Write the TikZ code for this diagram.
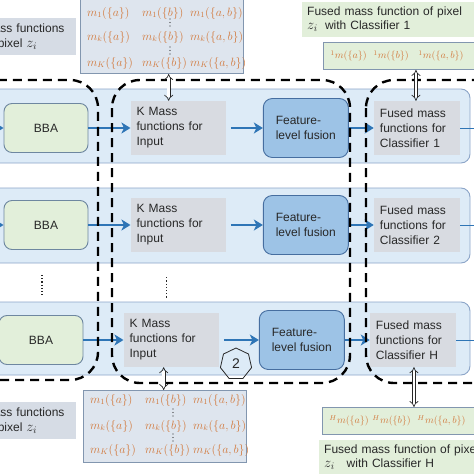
\documentclass[tikz,border=0pt]{standalone}
\usepackage[no-math]{fontspec}
\setmainfont{Liberation Sans}
\usetikzlibrary{arrows.meta, positioning, shapes.geometric}

\definecolor{fondobanda}{RGB}{221,235,247}
\definecolor{bordebanda}{RGB}{140,165,200}
\definecolor{verdeclaro}{RGB}{226,239,218}
\definecolor{bordebba}{RGB}{110,135,160}
\definecolor{grismasa}{RGB}{216,219,225}
\definecolor{azulfusion}{RGB}{157,195,230}
\definecolor{bordefusion}{RGB}{70,110,160}
\definecolor{azulflecha}{RGB}{46,117,182}
\definecolor{fondomatriz}{RGB}{222,229,238}
\definecolor{bordematriz}{RGB}{130,150,175}
\definecolor{grisrotulo}{RGB}{214,220,229}
\definecolor{naranja}{RGB}{210,122,62}
\definecolor{texto}{RGB}{40,40,40}

\newcommand{\filam}[3]{\makebox[55pt][l]{$#1$}\makebox[48pt][l]{$#2$}$#3$}
\newcommand{\filapre}[3]{\makebox[43pt][l]{$#1$}\makebox[45pt][l]{$#2$}$#3$}

\begin{document}
\begin{tikzpicture}[x=1pt, y=-1pt,
    font=\fontsize{12}{15}\selectfont, text=texto,
    banda/.style={draw=bordebanda, fill=fondobanda, rounded corners=9pt, line width=0.9pt},
    bba/.style={draw=bordebba, fill=verdeclaro, rounded corners=8pt, line width=0.9pt,
                minimum width=84pt, minimum height=49pt},
    masa/.style={fill=grismasa, text width=83pt, inner sep=6pt, minimum height=54pt, align=left},
    fusion/.style={draw=bordefusion, fill=azulfusion, rounded corners=9pt, line width=0.9pt,
                   minimum width=85pt, minimum height=59pt, align=left},
    fusionada/.style={fill=grismasa, text width=74pt, inner sep=6pt, minimum height=54pt, align=left},
    flecha/.style={-{Stealth[length=9pt, width=11pt, inset=2.5pt]}, line width=2.6pt, draw=azulflecha},
    salida/.style={draw=azulflecha, line width=1pt},
    limite/.style={draw=black, line width=2.4pt, dash pattern=on 9pt off 6pt, rounded corners=28pt},
    doble/.style={{Implies}-{Implies}, double=white, double distance=2.4pt, line width=0.7pt, draw=texto},
    puntos/.style={dotted, line width=1.2pt, draw=texto},
    tres puntos/.style={draw=texto, line width=1.1pt, line cap=round, dash pattern=on 0pt off 3.5pt},
    caja matriz/.style={draw=bordematriz, fill=fondomatriz, line width=0.9pt},
    caja verde/.style={draw=bordematriz, fill=verdeclaro, line width=0.9pt, text width=180pt,
                       minimum height=27pt, inner xsep=7pt, text=naranja, font=\fontsize{10}{12}\selectfont},
    fila/.style={anchor=west, inner sep=0pt, text=naranja, font=\fontsize{11.5}{13}\selectfont},
    rotulo gris/.style={fill=grisrotulo, text width=82pt, inner xsep=10pt, inner ysep=4pt,
                        minimum height=37pt, align=left},
    rotulo verde/.style={fill=verdeclaro, text width=190pt, inner sep=5pt, align=left,
                         font=\fontsize{12}{13.5}\selectfont}]
  \useasboundingbox (0,0) rectangle (474,474);
  \clip (0,0) rectangle (474,474);

  % bands
  \draw[banda] (-20,89) rectangle (470,163);
  \draw[banda] (-20,188) rectangle (470,263);
  \draw[banda] (-20,302) rectangle (470,375);

  % row 1
  \node[bba] (bba1) at (46,128) {BBA};
  \node[masa, right=42pt of bba1] (km1) {K Mass\\functions for\\Input};
  \node[fusion, right=37pt of km1] (fl1) {Feature-\\level fusion};
  \node[fusionada, right=25pt of fl1] (fu1) {Fused mass\\functions for\\Classifier 1};

  % row 2
  \node[bba] (bba2) at (46,225) {BBA};
  \node[masa, right=42pt of bba2] (km2) {K Mass\\functions for\\Input};
  \node[fusion, right=37pt of km2] (fl2) {Feature-\\level fusion};
  \node[fusionada, right=25pt of fl2] (fu2) {Fused mass\\functions for\\Classifier 2};

  % row H
  \node[bba] (bba3) at (41,340) {BBA};
  \node[masa, right=40pt of bba3] (km3) {K Mass\\functions for\\Input};
  \node[fusion, right=40pt of km3] (fl3) {Feature-\\level fusion};
  \node[fusionada, right=25pt of fl3] (fu3) {Fused mass\\functions for\\Classifier H};
  \node[regular polygon, regular polygon sides=7, draw=texto, line width=0.8pt,
        minimum size=32pt, inner sep=0pt, font=\fontsize{14}{14}\selectfont] (paso) at (236,364) {2};

  \foreach \f in {1,2,3} {
    \draw[flecha] ([xshift=-25pt]bba\f.west) -- (bba\f.west);
    \draw[flecha] (bba\f.east) -- (bba\f.east -| km\f.west);
    \draw[flecha, shorten <=5pt] (km\f.east) -- (km\f.east -| fl\f.west);
    \draw[flecha] (fl\f.east) -- (fl\f.east -| fu\f.west);
    \draw[salida] (fu\f.east) -- ++(30,0);
  }

  \draw[puntos] ([xshift=-4pt, yshift=-25pt]bba2.south) -- ++(0,22);
  \draw[puntos] ([xshift=-12pt, yshift=-25pt]km2.south) -- ++(0,22);

  % top mass functions
  \node[rotulo gris, anchor=north east] (pixsup) at (76,18) {\mbox{Mass functions}\\\mbox{of pixel {\Large$z_i$}}};
  \node[caja matriz, anchor=south west, minimum width=163pt, minimum height=80pt] (matsup) at (80,74) {};
  \node[fila] (ms1) at (87,13) {\filam{m_1(\{a\})}{m_1(\{b\})}{m_1(\{a,b\})}};
  \node[fila] (ms2) at (87,37) {\filam{m_k(\{a\})}{m_k(\{b\})}{m_k(\{a,b\})}};
  \node[fila] (ms3) at (87,63) {\filam{m_K(\{a\})}{m_K(\{b\})}{m_K(\{a,b\})}};
  \draw[tres puntos] (170,19) -- (170,27);
  \draw[tres puntos] (170,47) -- (170,55);

  \node[rotulo verde, anchor=north west] (rot1) at (302,2) {Fused mass function of pixel\\{\Large$z_i$}\; with Classifier 1};
  \node[caja verde, anchor=north west] (pm1) at (323,42) {\filapre{^1m(\{a\})}{^1m(\{b\})}{^1m(\{a,b\})}};

  % bottom mass functions
  \node[rotulo gris, anchor=north east] (pixinf) at (76,402) {\mbox{Mass functions}\\\mbox{of pixel {\Large$z_i$}}};
  \node[caja matriz, anchor=north west, minimum width=163pt, minimum height=72pt] (matinf) at (83,390) {};
  \node[fila] (mi1) at (90,400) {\filam{m_1(\{a\})}{m_1(\{b\})}{m_1(\{a,b\})}};
  \node[fila] (mi2) at (90,426) {\filam{m_k(\{a\})}{m_k(\{b\})}{m_k(\{a,b\})}};
  \node[fila] (mi3) at (90,450) {\filam{m_K(\{a\})}{m_K(\{b\})}{m_K(\{a,b\})}};
  \draw[tres puntos] (173,409) -- (173,417);
  \draw[tres puntos] (173,434) -- (173,442);

  \node[caja verde, anchor=north west] (pmH) at (322,407) {\filapre{^Hm(\{a\})}{^Hm(\{b\})}{^Hm(\{a,b\})}};
  \node[rotulo verde, anchor=north west] (rotH) at (319,440) {Fused mass function of pixel\\{\Large$z_i$}\quad with Classifier H};

  % dashed groups
  \draw[limite] (-40,80) rectangle (98,380);
  \draw[limite] (112,80) rectangle (350,383);
  \draw[limite] (366,80) rectangle (520,383);

  \draw[doble] ([xshift=-9.5pt]km1.north) -- ([xshift=-9.5pt]km1.north |- matsup.south);
  \draw[doble] ([xshift=-1pt]fu1.north) -- ([xshift=-1pt]fu1.north |- pm1.south);
  \draw[doble] ([xshift=-7.5pt]km3.south) -- ([xshift=-7.5pt]km3.south |- matinf.north);
  \draw[doble] ([xshift=1pt]fu3.south) -- ([xshift=1pt]fu3.south |- pmH.north);
\end{tikzpicture}
\end{document}
